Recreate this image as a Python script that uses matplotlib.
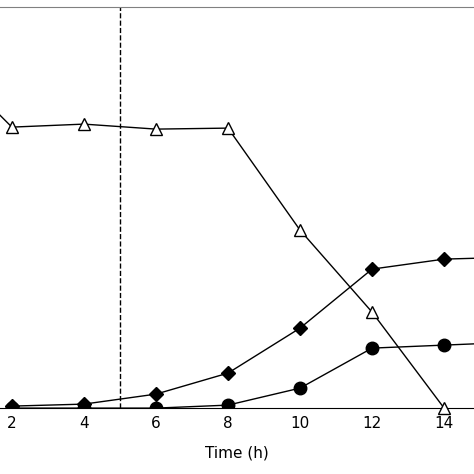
import numpy as np
import matplotlib
matplotlib.use('Agg')
import matplotlib.pyplot as plt

# values (arbitrary units, 0 = x axis)
t_tri = [0, 2, 4, 6, 8, 10, 12, 14]
y_tri = [353, 281, 284, 279, 280, 178, 96, 0]
t_dia = [2, 4, 6, 8, 10, 12, 14, 16]
y_dia = [2, 4, 14, 35, 80, 139, 149, 151]
t_cir = [2, 4, 6, 8, 10, 12, 14, 16]
y_cir = [0, 0, 0, 3, 20, 60, 63, 66]
t_lag = 5

fig = plt.figure(figsize=(4.74, 4.74), dpi=100)
ax = fig.add_axes([0, 0.139, 1, 0.846])
ax.plot(t_tri, y_tri, 'k-', lw=1, marker='^', ms=9, mfc='white', mec='k', clip_on=False, zorder=3)
ax.plot(t_dia, y_dia, 'k-', lw=1, marker='D', ms=7, mfc='k', zorder=3)
ax.plot(t_cir, y_cir, 'k-', lw=1, marker='o', ms=9, mfc='k', zorder=3)
ax.axvline(t_lag, color='k', ls='--', lw=1)

ax.set_xlim(1.67, 14.83)
ax.set_ylim(0, 401)
ax.set_xticks([2, 4, 6, 8, 10, 12, 14])
ax.tick_params(axis='x', labelsize=11, length=0, pad=6)
ax.set_yticks([])
ax.spines['left'].set_visible(False)
ax.spines['right'].set_visible(False)
ax.spines['top'].set_color('gray')
ax.set_xlabel('Time (h)', fontsize=11, labelpad=10)
fig.savefig('out.png', dpi=100)
